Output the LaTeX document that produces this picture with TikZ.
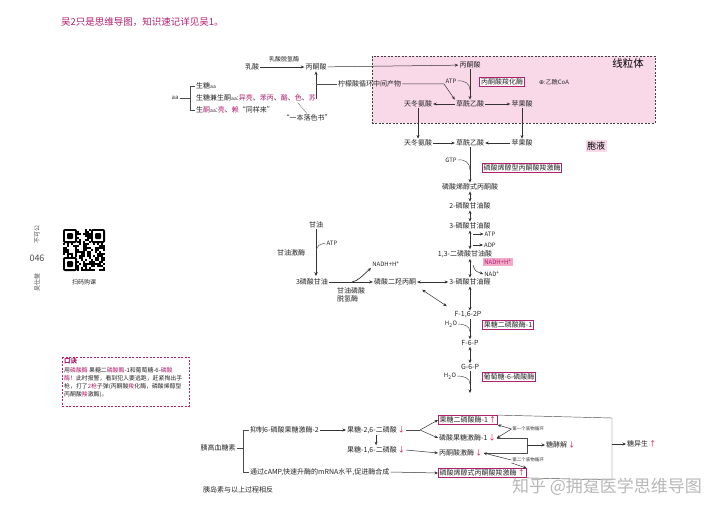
\documentclass[tikz,border=0pt]{standalone}
\usepackage{fontspec}
\setmainfont{Noto Sans CJK SC}
\newfontfamily\dv{DejaVu Sans}
\usetikzlibrary{arrows.meta,calc}
\definecolor{mag}{HTML}{B0206E}
\definecolor{pinkbg}{HTML}{F9D8E7}
\definecolor{pinkbox}{HTML}{F3A9C9}
\definecolor{redarr}{HTML}{D0103A}
\tikzset{
  t/.style={font=\fontsize{7}{8}\selectfont, inner sep=1pt, text=black!85},
  sm/.style={font=\fontsize{6}{7}\selectfont, inner sep=1pt, text=black!85},
  tiny/.style={font=\fontsize{4.5}{5}\selectfont, inner sep=0.6pt, text=black!80},
  enz/.style={t, draw=mag, line width=0.9pt, fill=white, inner sep=1.2pt},
  ar/.style={-{Stealth[length=3.5pt,width=3pt]}, line width=0.5pt, black!80},
  dar/.style={{Stealth[length=3.5pt,width=3pt]}-{Stealth[length=3.5pt,width=3pt]}, line width=0.5pt, black!80},
  ln/.style={line width=0.45pt, black!70},
}
\begin{document}
\begin{tikzpicture}[x=1pt,y=-1pt]
\fill[white] (0,0) rectangle (720,516);
\useasboundingbox (0,0) rectangle (720,516);

% title
\node[anchor=west, text=mag, font=\fontsize{9.5}{10}\selectfont, inner sep=0] (title) at (61,22) {吴2只是思维导图，知识速记详见吴1。};

% mitochondria box
\draw[black!75, dash pattern=on 2pt off 1.5pt, line width=0.8pt, fill=pinkbg] (372,56) rectangle (655,123);
\node[font=\fontsize{10.5}{11}\selectfont, inner sep=0] (mito) at (628,63) {线粒体};

% top left
\node[t] (lac) at (252,67) {乳酸};
\node[sm] (ldh) at (284,59) {乳酸脱氢酶};
\node[t] (pyr1) at (316,67) {丙酮酸};
\draw[ar] (lac) -- (pyr1);

\node[t] (pyr2) at (470,65) {丙酮酸};
\draw[ar] (pyr1) -- (pyr2);
\node[sm] (atp1) at (451,81) {ATP};
\node[enz] (pc) at (502,82) {丙酮酸羧化酶};
\node[sm] (acoa) at (554,82) {{\dv\fontsize{6}{7}\selectfont ⊕}:乙酰CoA};
\node[t] (oaa1) at (470,104) {草酰乙酸};
\node[t] (asp1) at (418,104) {天冬氨酸};
\node[t] (mal1) at (522,104) {苹果酸};
\draw[ar] (pyr2) -- (oaa1);
\draw[ln] (atp1.east) .. controls (465,80) and (470,84) .. (470,90);
\draw[ar] (oaa1) -- (asp1);
\draw[ar] (oaa1) -- (mal1);

% amino acids
\node[t, font=\itshape\fontsize{6}{7}\selectfont] (aa) at (175,98) {aa};
\coordinate (br) at (190,98);
\draw[ln] (aa.east) -- (br);
\draw[ln] (190,86) -- (190,110);
\node[t, anchor=west] (sg) at (195,86) {生糖{\fontsize{5}{6}\selectfont aa}};
\node[t, anchor=west] (sgsk) at (195,98) {生糖兼生酮{\fontsize{5}{6}\selectfont aa}:\textcolor{mag}{异亮}、\textcolor{mag}{苯丙}、\textcolor{mag}{酪}、\textcolor{mag}{色}、\textcolor{mag}{苏}};
\node[t, anchor=west] (sk) at (195,110) {生\textcolor{mag}{酮}{\fontsize{5}{6}\selectfont aa}:\textcolor{mag}{亮}、\textcolor{mag}{赖}“同样来”};
\draw[ln] (190,86) -- (sg.west);
\draw[ln] (190,110) -- (sk.west);
\coordinate (jx) at (316,98);
\draw[ln] (sgsk.east) -- (jx);
\draw[ar] (jx) -- (pyr1.south);
\node[t, anchor=west] (tca) at (337,84) {柠檬酸循环中间产物};
\draw[ln] (316,84) -- (tca.west);
\coordinate (tcab) at (444,84);
\draw[ar] (tca.east) -- (tcab) -- (oaa1.north west);
\node[t] (ybls) at (307,118) {“一本落色书”};
\draw[ln, black!50] (298,103) -- (ybls.north);

% cytosol
\node[t] (asp2) at (418,143) {天冬氨酸};
\node[t] (oaa2) at (470,143) {草酰乙酸};
\node[t] (mal2) at (522,143) {苹果酸};
\draw[ar] (asp1) -- (asp2);
\draw[ar] (mal1) -- (mal2);
\draw[ar] (asp2) -- (oaa2);
\draw[ar] (mal2) -- (oaa2);
\node[fill=pinkbg, font=\fontsize{9}{10}\selectfont, inner sep=1.5pt] (cyto) at (596,146) {胞液};
\node[sm] (gtp) at (451,160) {GTP};
\node[enz] (pepck) at (522,168) {磷酸烯醇型丙酮酸羧激酶};
\node[t] (pep) at (470,187) {磷酸烯醇式丙酮酸};
\draw[ar] (oaa2) -- (pep);
\draw[ln] (gtp.east) .. controls (465,159) and (470,163) .. (470,170);
\node[t] (pg2) at (470,206) {2-磷酸甘油酸};
\node[t] (pg3) at (470,226) {3-磷酸甘油酸};
\draw[dar] (pep) -- (pg2);
\draw[dar] (pg2) -- (pg3);
\node[t] (bpg) at (465,254) {1,3-二磷酸甘油酸};
\draw[dar] (pg3.south) -- (pg3.south |- bpg.north);
\node[sm] (atp2) at (490,234) {ATP};
\node[sm] (adp) at (490,245) {ADP};
\draw[ar] (473,234) -- (atp2.west);
\draw[ar] (473,245) -- (adp.west);
\node[t] (g3p) at (470,282) {3-磷酸甘油醛};
\draw[dar] (bpg.south -| g3p.north) -- (g3p.north);
\node[sm, fill=pinkbox, text=mag] (nadh2) at (498,262) {NADH+H\textsuperscript{+}};
\node[sm] (nad) at (492,274) {NAD\textsuperscript{+}};
\draw[ar] (473,265) .. controls (475,271) .. (nad.west);

% glycerol
\node[t] (dhap) at (395,282) {磷酸二羟丙酮};
\draw[dar] (dhap) -- (g3p);
\node[t] (g3) at (312,282) {3磷酸甘油};
\node[t] (gly) at (316,225) {甘油};
\coordinate (g3top) at (316,276);
\draw[-{Stealth[length=4pt,width=3.5pt]}, line width=1pt, black!80] (gly) -- (g3top);
\node[sm] (atp3) at (332,243) {ATP};
\draw[ln] (316,251) .. controls (318,245) .. (atp3.west);
\node[t] (gk) at (291,253) {甘油激酶};
\draw[ar, line width=0.8pt] (g3) -- (dhap);
\node[t, align=left, anchor=north west, font=\fontsize{7}{8.5}\selectfont] (gpdh) at (336,286) {甘油磷酸\\脱氢酶};
\node[sm] (nadh1) at (386,264) {NADH+H\textsuperscript{+}};
\draw[ar, line width=0.7pt] (352,282) .. controls (358,281) and (362,276) .. (nadh1.south west);

% gluconeogenesis lower
\node[t] (f16) at (468,315) {F-1,6-2P};
\draw[dar] (g3p.south) -- (g3p.south |- f16.north);
\draw[dar, shorten <=6pt, shorten >=8pt] (dhap.south east) -- (f16.north west);
\node[sm] (h2o1) at (451,324) {H\textsubscript{2}O};
\node[enz] (fbp) at (508,325) {果糖二磷酸酶-1};
\node[t] (f6p) at (470,343) {F-6-P};
\draw[ar] (f16.south -| f6p.north) -- (f6p.north);
\draw[ln] (h2o1.east) .. controls (464,324) and (470,326) .. (470,332);
\node[t] (g6p) at (470,367) {G-6-P};
\draw[dar] (f6p) -- (g6p);
\node[sm] (h2o2) at (450,376) {H\textsubscript{2}O};
\node[enz] (g6pase) at (509,377) {葡萄糖-6-磷酸酶};
\coordinate (gluc) at (470,393);
\draw[ar] (g6p) -- (gluc);
\draw[ln] (h2o2.east) .. controls (464,376) and (470,378) .. (470,384);

% QR code
\begin{scope}
\pgfmathsetseed{4711}
\foreach \i in {0,...,20}{
  \foreach \j in {0,...,20}{
    \pgfmathtruncatemacro\rr{rnd>0.5 ? 1 : 0}
    \ifnum\rr=1 \fill[black] (63+\i*2,229+\j*2) rectangle ++(2,2); \fi
  }
}
\foreach \px/\py in {63/229, 91/229, 63/257}{
  \fill[white] (\px,\py) rectangle ++(14,14);
  \fill[black, rounded corners=2pt] (\px,\py) rectangle ++(14,14);
  \fill[white] (\px+2,\py+2) rectangle ++(10,10);
  \fill[black, rounded corners=1pt] (\px+4,\py+4) rectangle ++(6,6);
}
\end{scope}
\node[sm] (qrl) at (84,282) {扫码购课};

% margin texts
\node[sm, rotate=90, text=black!70] (m1) at (37,234) {不可公};
\node[font=\fontsize{9}{10}\selectfont, text=black!70] (m2) at (37,258) {046};
\node[sm, rotate=90, text=black!70] (m3) at (37,282) {吴仕燮};

% mnemonic box
\draw[mag, dash pattern=on 2pt off 1.5pt, line width=0.8pt] (62,357) rectangle (189,406);
\node[anchor=north west, text=mag, font=\bfseries\fontsize{6.5}{7}\selectfont, inner sep=0] (kj) at (64,358) {口诀};
\node[anchor=north west, align=left, font=\fontsize{5.9}{8.2}\selectfont, inner sep=0, text=black!85] (kjt) at (64,367) {用\textcolor{mag}{磷酸酶} 果糖二\textcolor{mag}{磷酸酶}-1和葡萄糖-6-\textcolor{mag}{磷酸}\\\textcolor{mag}{酶}！此时报警，看到犯人要逃跑，赶紧掏出手\\枪，打了\textcolor{mag}{2枪}子弹(丙酮酸\textcolor{mag}{羧}化酶，磷酸烯醇型\\丙酮酸\textcolor{mag}{羧}激酶)。};

% glucagon part
\node[t] (glucagon) at (218,448) {胰高血糖素};
\draw[ln] (glucagon.east) -- (243,448);
\draw[ln] (243,430) -- (243,472);
\node[t, anchor=west] (inh) at (249,430) {抑制6-磷酸果糖激酶-2};
\draw[ln] (243,430) -- (inh.west);
\node[t, anchor=west] (f26) at (346,430) {果糖-2,6-二磷酸\,\textcolor{redarr}{↓}};
\draw[ar] (inh.east) -- (f26.west);
\node[t, anchor=west] (f16b) at (346,450) {果糖-1,6-二磷酸\,\textcolor{redarr}{↓}};
\draw[ar] (f26.south) -- (f16b.north);
\node[t, anchor=west] (camp) at (249,472) {通过cAMP,快速升酶的mRNA水平,促进酶合成};
\draw[ln] (243,472) -- (camp.west);

\node[enz, anchor=west] (fbp2) at (438,420) {果糖二磷酸酶-1\,\textcolor{redarr}{↑}};
\node[t, anchor=west] (pfk) at (438,438) {磷酸果糖激酶-1\,\textcolor{redarr}{↓}};
\node[t, anchor=west] (pk) at (438,453) {丙酮酸激酶\,\textcolor{redarr}{↓}};
\node[enz, anchor=west] (pepck2) at (438,473) {磷酸烯醇式丙酮酸羧激酶\,\textcolor{redarr}{↑}};
\draw[ar] (camp.east) -- (pepck2.west);
\coordinate (fk) at (420,430);
\draw[ln] (f26.east) -- (fk);
\draw[ar] (fk) -- (fbp2.west);
\draw[ar] (fk) -- (pfk.west);
\draw[ar] (f16b.east) -- (pk.west);

\node[tiny] (c1) at (528,429) {第一个底物循环};
\draw[ar] (c1.west) -- (fbp2.south east);
\draw[ar] (c1.west) -- (pfk.east);
\coordinate (b1) at (527,438);
\coordinate (b2) at (527,453);
\draw[ln] (pfk.east) -- (b1) -- (b2) -- (pk.east);
\node[t, anchor=west] (glyco) at (545,445) {糖酵解\,\textcolor{redarr}{↓}};
\draw[ar] (527,445) -- (glyco.west);
\node[tiny] (c2) at (528,460) {第二个底物循环};
\draw[ar] (c2.west) -- (pk.east);
\draw[ar] (c2.south west) -- (pepck2.north east);

\coordinate (g1) at (612,418);
\coordinate (g2) at (612,480);
\draw[ln] (fbp2.north east) -- (g1) -- (g2) -- (pepck2.south east);
\node[t, anchor=west] (gng) at (626,444) {糖异生\,\textcolor{redarr}{↑}};
\draw[ar] (612,444) -- (gng.west);

\node[t] (ins) at (238,490) {胰岛素与以上过程相反};

% watermark
\node[text=black!28, font=\fontsize{17}{18}\selectfont, inner sep=0] (wm) at (607,487) {知乎 @拥趸医学思维导图};
\end{tikzpicture}
\end{document}
